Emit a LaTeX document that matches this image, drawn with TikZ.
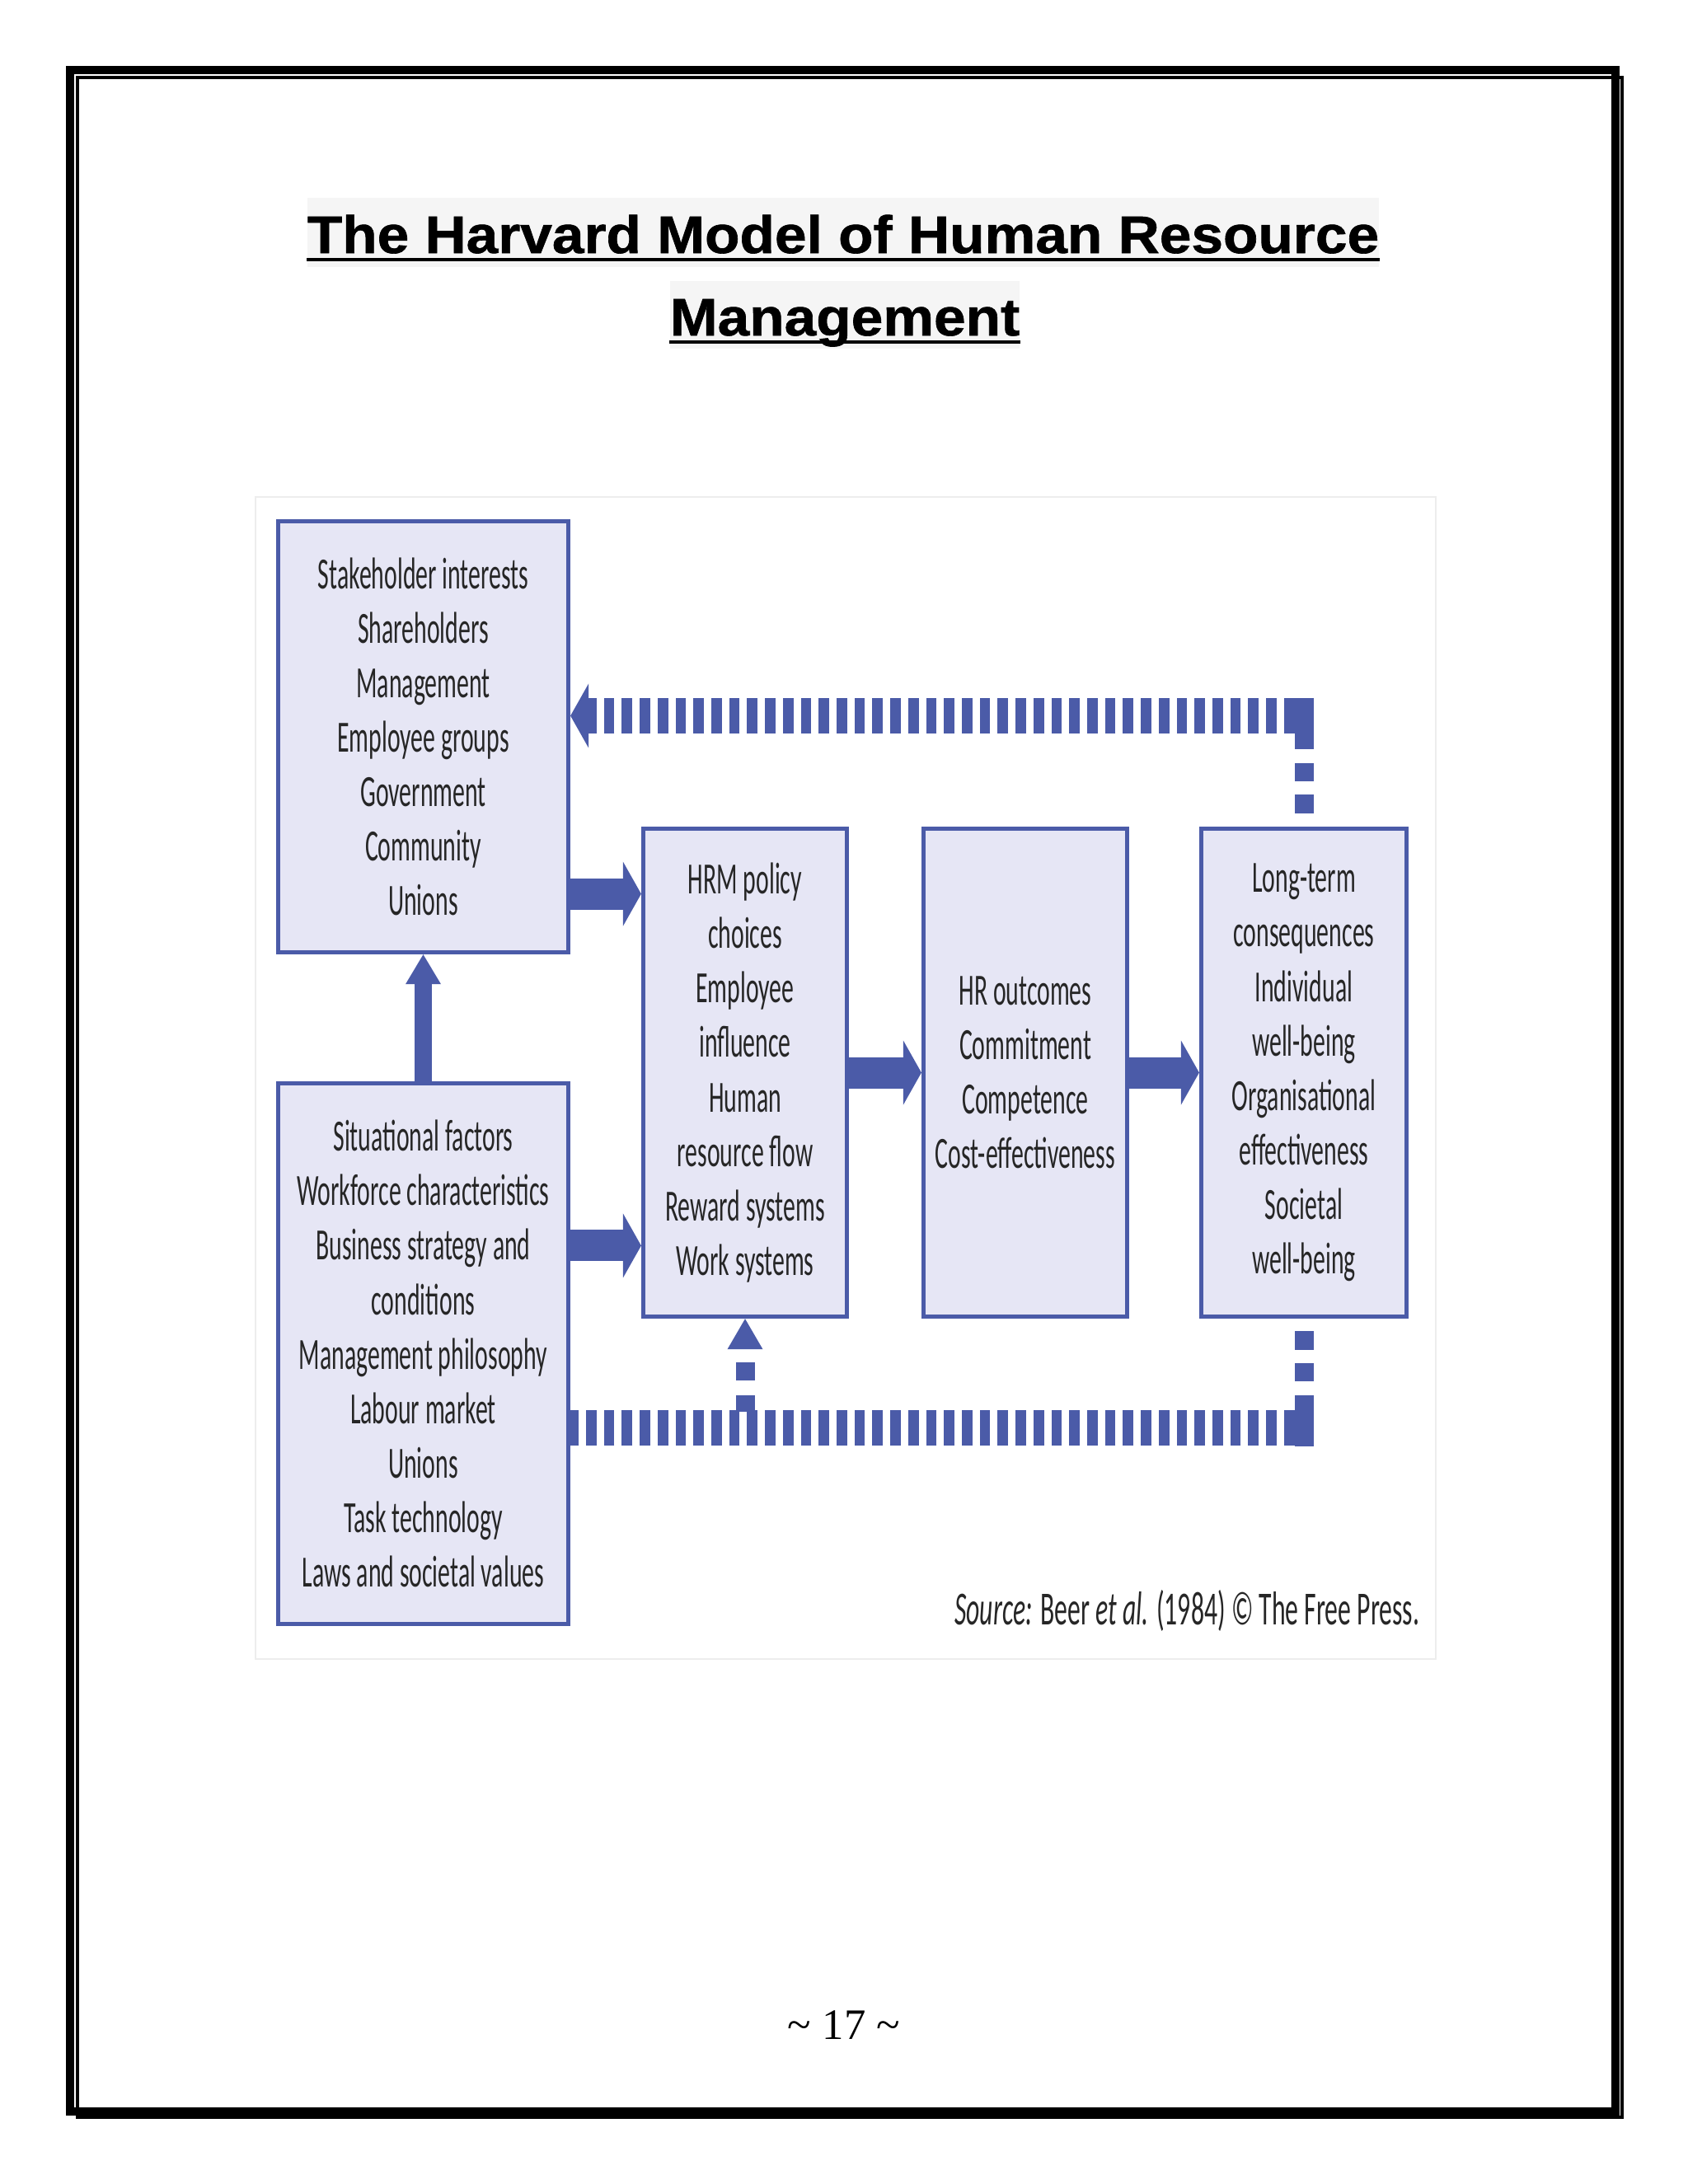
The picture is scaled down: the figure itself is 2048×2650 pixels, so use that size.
\documentclass[tikz,border=0pt]{standalone}
\usepackage{fontspec}
\usetikzlibrary{arrows.meta}
\setmainfont{Liberation Serif}
\newfontfamily\headfont[FakeStretch=1.085,FakeBold=1]{Liberation Sans}
\newfontfamily\boxfont[FakeStretch=0.55]{Carlito}
\definecolor{hblue}{RGB}{75,91,168}
\definecolor{hfill}{RGB}{230,230,245}

\begin{document}
\begin{tikzpicture}[x=0.01cm,y=-0.01cm,
	box/.style={draw=hblue,line width=0.05cm,fill=hfill,inner sep=0pt,align=center,text=black!85,
		font=\boxfont\fontsize{15.4pt}{18.8pt}\selectfont},
	fat/.style={draw=hblue,line width=0.38cm,-{Triangle[length=0.22cm,width=0.78cm,line width=0pt]}},
	tall/.style={draw=hblue,line width=0.21cm,-{Triangle[length=0.36cm,width=0.43cm,line width=0pt]}},
	hdash/.style={draw=hblue,line width=0.43cm,dash pattern=on 0.127cm off 0.09cm},
	vdash/.style={draw=hblue,line width=0.23cm,dash pattern=on 0.62cm off 0.17cm on 0.22cm off 0.16cm on 0.23cm off 0.3cm}]
	\useasboundingbox (0,0) rectangle (2048,2650);
	
	% page border
	\draw[line width=0.1cm] (85,85) rectangle (1960,2562);
	\draw[line width=0.035cm] (94,94) rectangle (1968,2569);
	
	% title
	\node[fill=black!4,inner sep=0pt,text height=0.67cm,text depth=0.17cm,anchor=base,
		font=\headfont\bfseries\fontsize{18.2pt}{18.2pt}\selectfont] (title1) at (1023,307) {The Harvard Model of Human Resource};
	\node[fill=black!4,inner sep=0pt,text height=0.66cm,text depth=0.16cm,anchor=base,
		font=\headfont\bfseries\fontsize{18.2pt}{18.2pt}\selectfont] (title2) at (1025,407) {Management};
	\draw[line width=0.035cm] ([yshift=-0.08cm]title1.base west) -- ([yshift=-0.08cm]title1.base east);
	\draw[line width=0.035cm] ([yshift=-0.08cm]title2.base west) -- ([yshift=-0.08cm]title2.base east);
	
	% panel
	\draw[black!7,line width=0.02cm] (310,603) rectangle (1742,2013);
	
	\node[box,minimum width=3.52cm,minimum height=5.23cm] (stake) at (513.5,894) {Stakeholder interests\\Shareholders\\Management\\Employee groups\\Government\\Community\\Unions};
	\node[box,minimum width=3.52cm,minimum height=6.56cm] (sit) at (513.5,1642.5) {Situational factors\\Workforce characteristics\\Business strategy and\\conditions\\Management philosophy\\Labour market\\Unions\\Task technology\\Laws and societal values};
	\node[box,minimum width=2.47cm,minimum height=5.92cm] (hrm) at (904,1301.5) {HRM policy\\choices\\Employee\\influence\\Human\\resource flow\\Reward systems\\Work systems};
	\node[box,minimum width=2.47cm,minimum height=5.92cm] (hro) at (1244,1301.5) {HR outcomes\\Commitment\\Competence\\Cost-effectiveness};
	\node[box,minimum width=2.49cm,minimum height=5.92cm] (lt) at (1582,1301.5) {Long-term\\consequences\\Individual\\well-being\\Organisational\\effectiveness\\Societal\\well-being};
	
	% solid arrows
	\coordinate (a1) at ([yshift=0.735cm]stake.south east);
	\coordinate (a2) at ([yshift=-1.995cm]sit.north east);
	\draw[fat] (a1) -- (a1 -| hrm.west);
	\draw[fat] (a2) -- (a2 -| hrm.west);
	\draw[fat] (hrm) -- (hro);
	\draw[fat] (hro) -- (lt);
	\draw[tall] (sit) -- (stake);
	
	% feedback, top
	\coordinate (fbin) at ([yshift=0.255cm]stake.east);
	\coordinate (fbtop) at (fbin -| lt.north);
	\draw[vdash] ([yshift=0.215cm]fbtop) -- (lt.north);
	\draw[hdash,-{Triangle[length=0.22cm,width=0.78cm,line width=0pt]}] ([xshift=-0.115cm]fbtop) -- (fbin);
	
	% feedback, bottom
	\coordinate (fbout) at ([yshift=-4.205cm]sit.north east);
	\coordinate (fbbot) at (fbout -| lt.south);
	\coordinate (fbmid) at (fbout -| hrm.south);
	\draw[vdash] ([yshift=-0.22cm]fbbot) -- (lt.south);
	\draw[hdash] ([xshift=-0.115cm]fbbot) -- (fbout);
	\draw[vdash,dash pattern=on 0.2cm off 0.18cm on 0.22cm off 0.6cm,-{Triangle[length=0.37cm,width=0.43cm,line width=0pt]}] ([yshift=0.2cm]fbmid) -- (hrm.south);
	
	\node[anchor=base east,inner sep=0pt,text=black!85,font=\boxfont\fontsize{16.4pt}{18.8pt}\selectfont] (src) at (1723,1971) {\textit{Source:} Beer \textit{et al.} (1984) © The Free Press.};
	\node[anchor=base,inner sep=0pt,font=\fontsize{15pt}{15pt}\selectfont] (page) at (1024,2474) {\textasciitilde{} 17 \textasciitilde};
	
\end{tikzpicture}
\end{document}
